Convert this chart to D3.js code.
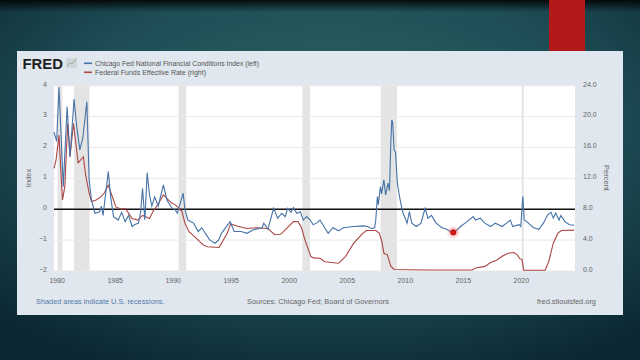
<!DOCTYPE html>
<html>
<head>
<meta charset="utf-8">
<script src="https://cdn.jsdelivr.net/npm/d3@7"></script>
<style>
html,body{margin:0;padding:0;background:#1c4750;}
svg{display:block;}
text{font-family:"Liberation Sans",Arial,sans-serif;}
</style>
</head>
<body>
<svg id="c" width="640" height="360"></svg>
<script>
// ---- data ----
const nfciDates = [1979.77,1980.0,1980.2,1980.57,1980.9,1981.15,1981.5,1981.75,1982.0,1982.25,1982.6,1982.8,1983.0,1983.3,1983.7,1983.85,1984.0,1984.45,1984.65,1984.9,1985.3,1985.6,1985.9,1986.2,1986.5,1986.7,1987.05,1987.24,1987.4,1987.6,1987.8,1988.0,1988.2,1988.45,1988.75,1989.2,1989.5,1989.9,1990.2,1990.4,1990.9,1991.05,1991.3,1991.8,1992.2,1992.5,1993.2,1993.65,1993.95,1994.2,1994.95,1995.3,1995.9,1996.4,1996.9,1997.7,1997.85,1998.2,1998.7,1999.05,1999.4,1999.7,1999.9,2000.2,2000.4,2000.7,2001.0,2001.25,2001.55,2001.84,2002.1,2002.4,2002.7,2003.1,2003.4,2003.8,2004.3,2004.7,2005.6,2006.4,2006.8,2007.15,2007.4,2007.5,2007.64,2007.72,2007.9,2008.0,2008.2,2008.35,2008.55,2008.68,2008.8,2008.88,2008.96,2009.08,2009.2,2009.36,2009.6,2009.83,2010.2,2010.4,2010.6,2011.0,2011.4,2011.75,2012.0,2012.3,2012.7,2013.2,2013.6,2014.2,2014.8,2015.2,2015.9,2016.1,2016.5,2016.9,2017.4,2017.8,2018.4,2019.1,2019.3,2019.85,2020.0,2020.17,2020.3,2020.65,2021.1,2021.55,2021.95,2022.3,2022.6,2022.8,2023.0,2023.3,2023.45,2023.8,2024.2,2024.6];
const nfciValues = [2.5,2.2,3.95,0.73,3.32,1.70,3.57,2.6,1.92,2.3,3.48,0.95,0.3,-0.13,-0.08,0.1,-0.2,1.22,0.41,-0.24,-0.35,-0.1,-0.4,-0.2,-0.56,-0.5,-0.45,-0.08,0.68,-0.35,1.18,0.46,0.1,0.4,0.1,0.79,0.3,0.05,-0.01,-0.13,0.52,0.0,-0.35,-0.45,-0.72,-0.6,-1.0,-1.1,-1.0,-0.78,-0.4,-0.72,-0.72,-0.78,-0.67,-0.6,-0.45,-0.65,0.03,-0.29,-0.13,-0.24,0.03,-0.1,0.05,-0.13,-0.08,-0.35,-0.24,-0.35,-0.5,-0.45,-0.35,-0.6,-0.78,-0.6,-0.7,-0.6,-0.56,-0.54,-0.56,-0.63,-0.6,-0.35,0.41,0.15,0.73,0.5,0.95,0.46,0.85,0.6,2.19,2.89,2.8,1.92,1.85,0.84,0.3,-0.1,-0.45,-0.08,-0.45,-0.56,-0.45,0.03,-0.29,-0.2,-0.45,-0.6,-0.65,-0.78,-0.56,-0.45,-0.24,-0.35,-0.29,-0.45,-0.56,-0.45,-0.56,-0.35,-0.56,-0.5,-0.56,0.41,-0.35,-0.45,-0.6,-0.65,-0.45,-0.19,-0.1,-0.29,-0.12,-0.35,-0.2,-0.4,-0.5,-0.52];

const fedDates = [1979.77,1979.95,1980.2,1980.5,1980.7,1980.95,1981.15,1981.45,1981.85,1982.3,1982.5,1982.8,1983.0,1983.4,1983.8,1984.1,1984.45,1984.9,1985.1,1985.6,1985.9,1986.2,1986.5,1987.0,1987.4,1987.7,1988.0,1988.3,1988.7,1989.2,1989.5,1989.9,1990.2,1990.5,1990.8,1991.05,1991.4,1991.7,1992.2,1992.6,1993.0,1994.0,1994.2,1994.7,1995.0,1995.6,1996.4,1997.2,1998.2,1998.8,1999.3,1999.8,2000.4,2000.8,2001.1,2001.4,2001.9,2002.1,2002.7,2003.1,2004.3,2004.9,2005.6,2006.4,2006.7,2007.5,2007.8,2008.0,2008.2,2008.5,2008.8,2009.1,2012.0,2015.8,2016.1,2016.9,2017.4,2017.9,2018.4,2018.9,2019.4,2019.7,2019.9,2020.1,2020.25,2022.1,2022.4,2022.8,2023.2,2023.5,2024.6];
const fedValues = [13.3,14.4,17.6,9.2,10.9,19.1,14.8,19.1,14.0,14.8,12.4,10.1,9.0,9.2,9.6,10.1,11.1,9.2,8.3,8.0,8.1,7.5,6.8,6.6,7.2,7.0,6.8,7.7,8.55,9.85,9.4,8.8,8.6,8.2,7.7,6.2,5.1,4.7,4.0,3.4,3.15,3.05,3.6,4.9,6.1,5.8,5.5,5.6,5.5,4.7,4.75,5.5,6.4,6.4,5.6,4.0,1.9,1.7,1.65,1.2,1.0,1.9,3.6,4.9,5.25,5.25,4.9,4.0,2.3,2.1,0.6,0.2,0.12,0.12,0.4,0.6,1.1,1.4,1.9,2.3,2.4,2.1,1.6,1.5,0.1,0.1,1.2,3.6,4.9,5.25,5.3];

const recessionStarts = [1980.08,1981.5,1990.5,2001.17,2007.92,2020.08];
const recessionEnds   = [1980.5,1982.83,1991.17,2001.83,2009.33,2020.25];

const xTickYears = [1980,1985,1990,1995,2000,2005,2010,2015,2020];
const leftTicks = [-2,-1,0,1,2,3,4];
const rightTicks = [0,4,8,12,16,20,24];

const seriesNames = ["Chicago Fed National Financial Conditions Index (left)","Federal Funds Effective Rate (right)"];
const seriesColors = ["#4572a7","#aa4643"];

// ---- drawing ----
const svg = d3.select("#c");
const defs = svg.append("defs");

const rg = defs.append("radialGradient").attr("id","bg").attr("cx","0.52").attr("cy","0.35").attr("r","0.75");
rg.append("stop").attr("offset","0").attr("stop-color","#2e6567");
rg.append("stop").attr("offset","0.55").attr("stop-color","#1e4d55");
rg.append("stop").attr("offset","1").attr("stop-color","#0b2733");
const tg = defs.append("linearGradient").attr("id","topdark").attr("x1",0).attr("x2",0).attr("y1",0).attr("y2",1);
tg.append("stop").attr("offset","0").attr("stop-color","#000").attr("stop-opacity",0.85);
tg.append("stop").attr("offset","1").attr("stop-color","#000").attr("stop-opacity",0);
const glow = defs.append("radialGradient").attr("id","glow");
glow.append("stop").attr("offset","0").attr("stop-color","#ff4040").attr("stop-opacity",0.75);
glow.append("stop").attr("offset","1").attr("stop-color","#ff8080").attr("stop-opacity",0);

svg.append("rect").attr("width",640).attr("height",360).attr("fill","url(#bg)");
svg.append("rect").attr("width",640).attr("height",12).attr("fill","url(#topdark)");
svg.append("rect").attr("x",549).attr("y",0).attr("width",36).attr("height",51).attr("fill","#b3191b");

// panel
svg.append("rect").attr("x",17).attr("y",51).attr("width",606).attr("height",264).attr("fill","#e0e7ee");

const L = 54, R = 575, T = 85.7, B = 271;
const x = d3.scaleLinear().domain([1979.77, 2024.67]).range([L, R]);
const yL = d3.scaleLinear().domain([-2, 4]).range([B, T]);
const yR = d3.scaleLinear().domain([0, 24]).range([B, T]);

svg.append("rect").attr("x",L).attr("y",T).attr("width",R-L).attr("height",B-T).attr("fill","#ffffff");

// recessions
svg.append("g").selectAll("rect").data(recessionStarts).join("rect")
  .attr("x",(d)=>x(d)).attr("y",T)
  .attr("width",(d,i)=>x(recessionEnds[i])-x(d)).attr("height",B-T)
  .attr("fill","#e4e4e4");

// grid
svg.append("g").selectAll("line").data(leftTicks).join("line")
  .attr("x1",L).attr("x2",R).attr("y1",d=>yL(d)).attr("y2",d=>yL(d))
  .attr("stroke","#e8e8e8").attr("stroke-width",1);

// left axis
const gl = svg.append("g").attr("transform",`translate(${L-7},0)`)
  .call(d3.axisLeft(yL).tickValues(leftTicks).tickSize(0).tickFormat(d3.format("d")));
gl.select(".domain").remove();
gl.selectAll("text").attr("font-size","7px").attr("fill","#666").attr("dy","0.05em").attr("x",0);

// right axis
const gr = svg.append("g").attr("transform",`translate(${R+8},0)`)
  .call(d3.axisRight(yR).tickValues(rightTicks).tickSize(0).tickFormat(d3.format(".1f")));
gr.select(".domain").remove();
gr.selectAll("text").attr("font-size","7px").attr("fill","#666").attr("dy","0.05em").attr("x",0);

// bottom axis
const gb = svg.append("g").attr("transform",`translate(0,${B})`)
  .call(d3.axisBottom(x).tickValues(xTickYears).tickSize(0).tickFormat(d3.format("d")));
gb.select(".domain").remove();
gb.selectAll("text").attr("font-size","7px").attr("fill","#666").attr("y",7.5);

// axis titles
svg.append("text").attr("transform","translate(31,178) rotate(-90)").attr("text-anchor","middle")
  .attr("font-size","7.5px").attr("fill","#666").text("Index");
svg.append("text").attr("transform","translate(604,178) rotate(90)").attr("text-anchor","middle")
  .attr("font-size","7.5px").attr("fill","#666").text("Percent");

// zero line
svg.append("line").attr("x1",L).attr("x2",R).attr("y1",yL(0)).attr("y2",yL(0))
  .attr("stroke","#111").attr("stroke-width",1.3);

// series
const nfci = nfciDates.map((d,i)=>[d,nfciValues[i]]);
const fed = fedDates.map((d,i)=>[d,fedValues[i]]);
svg.append("path").datum(fed)
  .attr("d", d3.line().x(d=>x(d[0])).y(d=>yR(d[1])))
  .attr("fill","none").attr("stroke",seriesColors[1]).attr("stroke-width",1.1);
svg.append("path").datum(nfci)
  .attr("d", d3.line().x(d=>x(d[0])).y(d=>yL(d[1])))
  .attr("fill","none").attr("stroke",seriesColors[0]).attr("stroke-width",1.1);

// header: FRED logo + legend
svg.append("text").attr("x",22.5).attr("y",68.5).attr("font-size","14.5px").attr("font-weight","bold")
  .attr("fill","#1e1e1e").attr("textLength",40.5).attr("lengthAdjust","spacingAndGlyphs").text("FRED");
svg.append("rect").attr("x",66).attr("y",58).attr("width",11).attr("height",10).attr("fill","#cfd6dc");
svg.append("polyline").attr("points","67,66 70,63 72,64 76,59").attr("fill","none").attr("stroke","#9fb08f").attr("stroke-width",1);

const legY = [63.3, 72.3];
const legW = [164, 111];
seriesNames.forEach((n,i)=>{
  svg.append("line").attr("x1",84).attr("x2",92).attr("y1",legY[i]).attr("y2",legY[i])
    .attr("stroke",seriesColors[i]).attr("stroke-width",1.6);
  svg.append("text").attr("x",95).attr("y",legY[i]+2.5).attr("font-size","7.2px").attr("fill","#555")
    .attr("textLength",legW[i]).attr("lengthAdjust","spacingAndGlyphs").text(n);
});

// footer
svg.append("text").attr("x",36).attr("y",304).attr("font-size","8px").attr("fill","#5379a9")
  .attr("textLength",128.5).attr("lengthAdjust","spacingAndGlyphs").text("Shaded areas indicate U.S. recessions.");
svg.append("text").attr("x",247).attr("y",304).attr("font-size","8px").attr("fill","#666")
  .attr("textLength",142).attr("lengthAdjust","spacingAndGlyphs").text("Sources: Chicago Fed; Board of Governors");
svg.append("text").attr("x",537).attr("y",304).attr("font-size","8px").attr("fill","#666")
  .attr("textLength",59).attr("lengthAdjust","spacingAndGlyphs").text("fred.stlouisfed.org");

// pointer highlight
svg.append("circle").attr("cx",453.3).attr("cy",232.3).attr("r",7).attr("fill","url(#glow)");
svg.append("circle").attr("cx",453.3).attr("cy",232.3).attr("r",2.6).attr("fill","#d81a1a").attr("stroke","#9a0c0c").attr("stroke-width",0.8);
</script>
</body>
</html>
